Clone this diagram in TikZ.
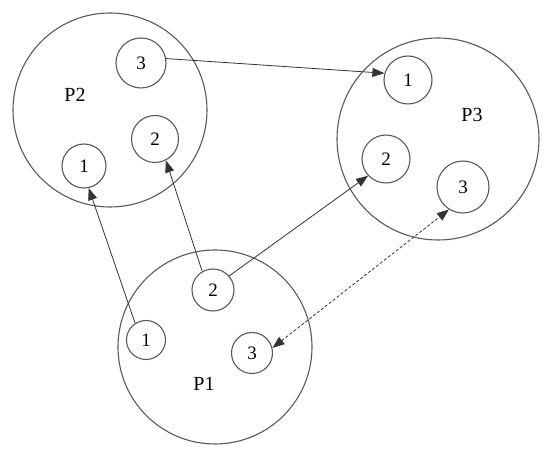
\documentclass[tikz,border=0pt]{standalone}
\usepackage{fontspec}
\setmainfont{Liberation Serif}
\usetikzlibrary{arrows.meta}
\begin{document}
\begin{tikzpicture}[x=1pt,y=-1pt,
  big/.style={circle,draw=black!65,line width=1.1pt,inner sep=0pt},
  small/.style={circle,draw=black!65,line width=1.1pt,inner sep=0pt,font=\fontsize{19}{19}\selectfont},
  lbl/.style={font=\fontsize{20}{20}\selectfont},
  tip/.style={Triangle[length=12pt,width=9pt]},
  arr/.style={draw=black!80,line width=0.8pt,-{Triangle[length=12pt,width=9pt]}},
  darr/.style={draw=black!80,line width=0.8pt,dash pattern=on 3pt off 2pt,{Triangle[length=12pt,width=9pt]}-{Triangle[length=12pt,width=9pt]}}]
\useasboundingbox (0,0) rectangle (550,457);
% big circles
\node[big,minimum size=194pt] (P2) at (110,110) {};
\node[big,minimum size=202pt] (P3) at (438,139) {};
\node[big,minimum size=194pt] (P1) at (215,347) {};
% labels
\node[lbl] (l2) at (75,95) {P2};
\node[lbl] (l3) at (472,115) {P3};
\node[lbl] (l1) at (204,384) {P1};
% small circles
\node[small,minimum size=50pt] (p23) at (141,63) {3};
\node[small,minimum size=47pt] (p22) at (155,139) {2};
\node[small,minimum size=44pt] (p21) at (84,166) {1};
\node[small,minimum size=48pt] (p31) at (408,80) {1};
\node[small,minimum size=48pt] (p32) at (386,159) {2};
\node[small,minimum size=52pt] (p33) at (463,187) {3};
\node[small,minimum size=42pt] (p12) at (213,290) {2};
\node[small,minimum size=39pt] (p11) at (146,340) {1};
\node[small,minimum size=41pt] (p13) at (252,353) {3};
% connectors
\draw[arr] (p23.10) -- (p31.164);
\draw[arr] (p11.123) -- (p21.282);
\draw[arr] (p12.120) -- (p22.297);
\draw[arr] (p12.41) -- (p32.223);
\draw[darr] (p13.14) -- (p33.238);
\end{tikzpicture}
\end{document}
